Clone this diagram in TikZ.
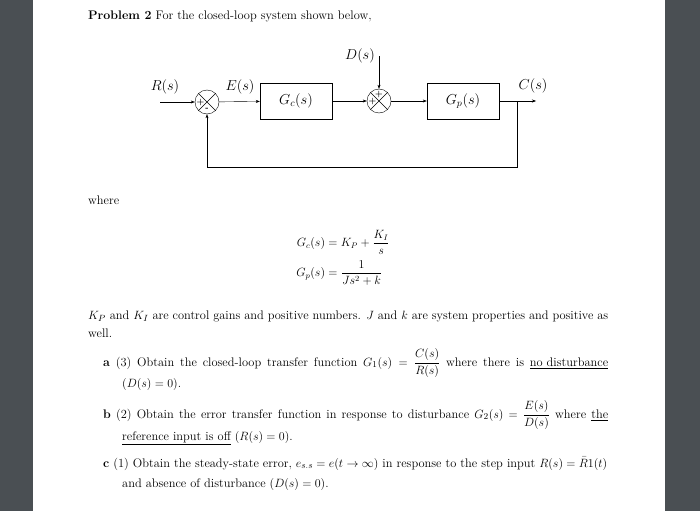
\documentclass[tikz,border=0pt]{standalone}
\usepackage{amsmath}
\usetikzlibrary{arrows.meta}
\definecolor{bggray}{RGB}{74,79,83}
\begin{document}
\begin{tikzpicture}[x=1pt,y=-1pt,
  blk/.style={draw,thin,minimum width=72pt,minimum height=36pt,inner sep=0pt,font=\fontsize{14}{16}\selectfont},
  sumj/.style={draw,thin,circle,minimum size=24pt,inner sep=0pt},
  sig/.style={-{Stealth[length=4pt,width=3pt]},thin},
  lbl/.style={font=\fontsize{15}{17}\selectfont,inner sep=0pt},
  txt/.style={anchor=base west,inner sep=0pt,font=\fontsize{12.4}{14}\selectfont},
  pm/.style={font=\fontsize{8}{8}\selectfont\bfseries,inner sep=0pt}]
\fill[bggray] (0,0) rectangle (700,511);
\fill[white] (33,0) rectangle (665,511);
\useasboundingbox (0,0) rectangle (700,511);
% title
\node[txt] (title) at (88,20) {\textbf{Problem 2} For the closed-loop system shown below,};
% block diagram
\coordinate (in) at (160,102);
\node[sumj] (s1) at (207,102) {};
\draw[thin] (s1.north west) -- (s1.south east) (s1.north east) -- (s1.south west);
\node[pm] at ([xshift=-6.5pt]s1.center) {+};
\node[pm] at ([yshift=-7pt]s1.center) {-};
\node[blk] (gc) at (296,101) {$G_c(s)$};
\node[sumj] (s2) at (379,101) {};
\draw[thin] (s2.north west) -- (s2.south east) (s2.north east) -- (s2.south west);
\node[pm] at ([xshift=-6.5pt]s2.center) {+};
\node[pm] at ([yshift=6.5pt]s2.center) {+};
\node[blk] (gp) at (463,101) {$G_p(s)$};
\coordinate (br) at (517,101);
\coordinate (out) at (536,101);
\coordinate (dtop) at (379,56);
\coordinate (fb1) at (517,167);
\coordinate (fb2) at (207,167);
\draw[sig] (in) -- (s1);
\draw[sig] (s1) -- (gc);
\draw[sig] (gc) -- (s2);
\draw[sig] (s2) -- (gp);
\draw[sig] (gp) -- (out);
\draw[sig] (dtop) -- (s2);
\draw[sig] (br) -- (fb1) -- (fb2) -- (s1);
\node[lbl] (R) at (165,87) {$R(s)$};
\node[lbl] (E) at (240,87) {$E(s)$};
\node[lbl] (D) at (360,56) {$D(s)$};
\node[lbl] (C) at (533,86) {$C(s)$};
% where
\node[txt] (where) at (88,204) {where};
\node[inner sep=0pt,font=\fontsize{11.5}{13}\selectfont] (eqs) at (343,258) {$\begin{aligned}
G_c(s)&=K_P+\frac{K_I}{s}\\[2pt]
G_p(s)&=\frac{1}{Js^2+k}\end{aligned}$};
% paragraph
\node[txt] (p1) at (88,319) {\makebox[520pt][s]{$K_P$ and $K_I$ are control gains and positive numbers. $J$ and $k$ are system properties and positive as}};
\node[txt] (p2) at (88,337) {well.};
\node[txt] (a1) at (103,366) {\makebox[505pt][s]{\textbf{a} (3) Obtain the closed-loop transfer function $G_1(s)=\dfrac{C(s)}{R(s)}$ where there is \underline{no disturbance}}};
\node[txt] (a2) at (122,387) {$(D(s)=0)$.};
\node[txt] (b1) at (103,418) {\makebox[505pt][s]{\textbf{b} (2) Obtain the error transfer function in response to disturbance $G_2(s)=\dfrac{E(s)}{D(s)}$ where \underline{the}}};
\node[txt] (b2) at (122,440) {\underline{reference input is off} $(R(s)=0)$.};
\node[txt] (c1) at (103,467) {\makebox[504pt][s]{\textbf{c} (1) Obtain the steady-state error, $e_{s.s}=e(t\to\infty)$ in response to the step input $R(s)=\bar R1(t)$}};
\node[txt] (c2) at (122,487) {and absence of disturbance $(D(s)=0)$.};
\end{tikzpicture}
\end{document}
